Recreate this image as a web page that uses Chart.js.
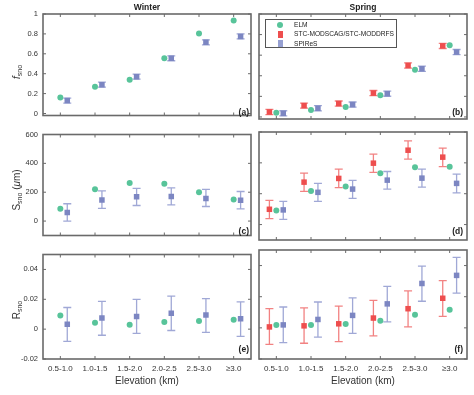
<!DOCTYPE html>
<html><head><meta charset="utf-8">
<script src="https://cdn.jsdelivr.net/npm/chart.js@4.4.0/dist/chart.umd.min.js"></script>
<style>
body{margin:0;background:#fff;}
#wrap{position:relative;width:474px;height:395px;overflow:hidden;font-family:"Liberation Sans",Arial,sans-serif;color:#222;}
canvas{position:absolute;}
.t{position:absolute;white-space:nowrap;line-height:1;}
.title{font-weight:bold;font-size:8.5px;transform:translate(-50%,-50%);}
.plab{font-weight:bold;font-size:8.5px;transform:translate(-100%,-50%);}
.xt{font-size:10px;transform:translate(-50%,-50%);color:#333;}
.yl{font-size:10px;transform:translate(-50%,-50%) rotate(-90deg);color:#333;}
.yl sub{font-size:7px;vertical-align:-2px;}
#legend{position:absolute;left:265px;top:19px;width:132px;height:29px;border:1px solid #555;background:#fff;box-sizing:border-box;}
.lr{position:absolute;left:0;font-size:6.6px;line-height:1;white-space:nowrap;}
.lm{position:absolute;}
</style></head><body>
<div id="wrap">
<canvas id="c0" width="255" height="125" style="left:0;top:0"></canvas>
<canvas id="c1" width="219" height="125" style="left:255px;top:0"></canvas>
<canvas id="c2" width="255" height="120" style="left:0;top:125px"></canvas>
<canvas id="c3" width="219" height="120" style="left:255px;top:125px"></canvas>
<canvas id="c4" width="255" height="150" style="left:0;top:245px"></canvas>
<canvas id="c5" width="219" height="150" style="left:255px;top:245px"></canvas>

<div class="t title" style="left:147px;top:7px">Winter</div>
<div class="t title" style="left:363px;top:7px">Spring</div>

<div class="t yl" style="left:17px;top:72px"><i>f</i><sub>sno</sub></div>
<div class="t yl" style="left:17px;top:190px">S<sub>sno</sub> (<i>μ</i>m)</div>
<div class="t yl" style="left:17px;top:310px">R<sub>sno</sub></div>

<div class="t plab" style="left:249px;top:112px">(a)</div>
<div class="t plab" style="left:463px;top:112px">(b)</div>
<div class="t plab" style="left:249px;top:231px">(c)</div>
<div class="t plab" style="left:463px;top:231px">(d)</div>
<div class="t plab" style="left:249px;top:349px">(e)</div>
<div class="t plab" style="left:463px;top:349px">(f)</div>

<div class="t xt" style="left:147px;top:381px">Elevation (km)</div>
<div class="t xt" style="left:363px;top:381px">Elevation (km)</div>

<div id="legend">
  <div class="lm" style="left:11px;top:2px;width:6px;height:6px;border-radius:50%;background:rgb(88,196,154)"></div>
  <div class="lr" style="left:28px;top:2px">ELM</div>
  <div class="lm" style="left:11.5px;top:10.5px;width:5px;height:7px;background:rgb(238,78,78)"></div>
  <div class="lr" style="left:28px;top:11px">STC-MODSCAG/STC-MODDRFS</div>
  <div class="lm" style="left:11.5px;top:20px;width:5px;height:7px;background:rgb(150,160,210)"></div>
  <div class="lr" style="left:28px;top:20.5px">SPIReS</div>
</div>
</div>
<script>
// ---- data ----
const categories = ['0.5-1.0','1.0-1.5','1.5-2.0','2.0-2.5','2.5-3.0','\u22653.0'];

// fsno
const winterElmF      = [0.16, 0.27, 0.34, 0.555, 0.805, 0.935];
const winterSpiresF   = [0.13, 0.29, 0.37, 0.555, 0.715, 0.775];
const winterSpiresFLo = [0.105, 0.265, 0.345, 0.53, 0.69, 0.75];
const winterSpiresFHi = [0.155, 0.315, 0.395, 0.58, 0.74, 0.80];

const springStcF      = [0.048, 0.11, 0.13, 0.232, 0.50, 0.69];
const springStcFLo    = [0.023, 0.085, 0.105, 0.207, 0.475, 0.665];
const springStcFHi    = [0.073, 0.135, 0.155, 0.257, 0.525, 0.715];
const springElmF      = [0.04, 0.068, 0.097, 0.21, 0.458, 0.697];
const springSpiresF   = [0.035, 0.084, 0.12, 0.226, 0.468, 0.63];
const springSpiresFLo = [0.01, 0.059, 0.095, 0.201, 0.443, 0.605];
const springSpiresFHi = [0.06, 0.109, 0.145, 0.251, 0.493, 0.655];

// Ssno (um)
const winterElmS      = [86, 221, 264, 258, 200, 150];
const winterSpiresS   = [60, 146, 168, 170, 157, 145];
const winterSpiresSLo = [0, 88, 108, 112, 101, 84];
const winterSpiresSHi = [120, 209, 226, 230, 219, 205];

const springStcS      = [99, 275, 299, 398, 482, 437];
const springStcSLo    = [39, 215, 239, 338, 424, 376];
const springStcSHi    = [157, 333, 359, 456, 542, 495];
const springElmS      = [92, 217, 247, 333, 372, 374];
const springSpiresS   = [95, 209, 230, 288, 301, 267];
const springSpiresSLo = [34, 150, 170, 230, 243, 206];
const springSpiresSHi = [150, 267, 286, 344, 359, 327];

// Rsno
const winterElmR      = [0.0091, 0.0043, 0.0030, 0.0048, 0.0054, 0.0063];
const winterSpiresR   = [0.0032, 0.0074, 0.0084, 0.0106, 0.0095, 0.0069];
const winterSpiresRLo = [-0.0082, -0.0041, -0.0028, -0.0009, -0.0022, -0.0048];
const winterSpiresRHi = [0.0145, 0.0186, 0.0199, 0.0221, 0.0205, 0.0182];

const springStcR      = [0.0006, 0.0013, 0.0026, 0.0063, 0.0123, 0.0190];
const springStcRLo    = [-0.0106, -0.0099, -0.0089, -0.0052, 0.0006, 0.0074];
const springStcRHi    = [0.0123, 0.0128, 0.0140, 0.0177, 0.0238, 0.0303];
const springElmR      = [0.0019, 0.0019, 0.0024, 0.0045, 0.0084, 0.0117];
const springSpiresR   = [0.0019, 0.0054, 0.0080, 0.0154, 0.0285, 0.0337];
const springSpiresRLo = [-0.0095, -0.0060, -0.0035, 0.0039, 0.0171, 0.0223];
const springSpiresRHi = [0.0134, 0.0166, 0.0192, 0.0266, 0.0396, 0.0452];

const fTicks = [0, 0.2, 0.4, 0.6, 0.8, 1];
const sTicks = [0, 200, 400, 600];
const rTicks = [-0.02, 0, 0.02, 0.04];

// ---- styling ----
const FONT = "'Liberation Sans', Arial, sans-serif";
const COL = {elm:'rgb(88,196,154)', stc:'rgb(238,78,78)', spires:'rgb(124,134,194)'};
const BAR = {stc:'rgb(242,130,130)', spires:'rgb(160,168,214)'};
const OFF = {stc:-0.2, elm:0, spires:0.2};

function ds(kind, vals, lo, hi){
  return {
    label: kind,
    data: vals.map((v,i)=>({x:i+OFF[kind], y:v})),
    lo: lo, hi: hi, barColor: BAR[kind],
    pointStyle: kind==='elm' ? 'circle' : 'rect',
    pointRadius: kind==='elm' ? 3 : 3.9,
    backgroundColor: COL[kind],
    borderWidth: 0,
    showLine: false
  };
}

const errPlugin = {
  id:'err',
  beforeDatasetsDraw(chart){
    const {ctx, scales:{x,y}} = chart;
    ctx.save();
    chart.data.datasets.forEach(d=>{
      if(!d.lo) return;
      ctx.strokeStyle = d.barColor;
      ctx.lineWidth = 1.3;
      ctx.beginPath();
      d.data.forEach((p,i)=>{
        const px = x.getPixelForValue(p.x);
        const y1 = y.getPixelForValue(d.lo[i]);
        const y2 = y.getPixelForValue(d.hi[i]);
        ctx.moveTo(px,y1); ctx.lineTo(px,y2);
        ctx.moveTo(px-4,y1); ctx.lineTo(px+4,y1);
        ctx.moveTo(px-4,y2); ctx.lineTo(px+4,y2);
      });
      ctx.stroke();
    });
    ctx.restore();
  }
};

const framePlugin = {
  id:'frame',
  afterDraw(chart){
    const {ctx, chartArea:a, scales:{x,y}} = chart;
    ctx.save();
    ctx.strokeStyle = '#6a6a6a';
    ctx.lineWidth = 1;
    ctx.beginPath();
    x.ticks.forEach(t=>{
      const px = x.getPixelForValue(t.value);
      ctx.moveTo(px,a.top); ctx.lineTo(px,a.top+3);
      ctx.moveTo(px,a.bottom); ctx.lineTo(px,a.bottom-3);
    });
    y.ticks.forEach(t=>{
      const py = y.getPixelForValue(t.value);
      ctx.moveTo(a.left,py); ctx.lineTo(a.left+3,py);
      ctx.moveTo(a.right,py); ctx.lineTo(a.right-3,py);
    });
    ctx.stroke();
    ctx.lineWidth = 1.6;
    ctx.strokeRect(a.left, a.top, a.right-a.left, a.bottom-a.top);
    ctx.restore();
  }
};

function make(id, datasets, yc, o){
  new Chart(document.getElementById(id), {
    type:'scatter',
    data:{datasets},
    plugins:[errPlugin, framePlugin],
    options:{
      responsive:false, animation:false, events:[],
      layout:{padding:{top:o.pt, bottom:o.pb, left:0, right:o.pr}},
      plugins:{legend:{display:false}, tooltip:{enabled:false}},
      scales:{
        x:{type:'linear', min:-0.5, max:5.5,
           afterBuildTicks:s=>{ s.ticks = categories.map((c,i)=>({value:i})); },
           grid:{display:false, drawTicks:false}, border:{display:false},
           ticks:{display:o.xl, padding:5, autoSkip:false, maxRotation:0, color:'#333',
                  font:{family:FONT, size:8}, callback:v=>categories[v]},
           afterFit:s=>{ s.height = o.xh; }},
        y:{min:yc.min, max:yc.max,
           afterBuildTicks:s=>{ s.ticks = yc.ticks.map(v=>({value:v})); },
           grid:{display:false, drawTicks:false}, border:{display:false},
           ticks:{display:o.yl, padding:5, color:'#333', font:{family:FONT, size:7.5},
                  callback:v=>String(v)},
           afterFit:s=>{ s.width = o.yw; }}
      }
    }
  });
}

const L = {yl:true, yw:43, pr:4};
const R = {yl:false, yw:4, pr:7};
const row0 = {pt:14, pb:6, xl:false, xh:0};
const row1 = {pt:7, pb:5, xl:false, xh:0};
const row2 = {pt:5, pb:0, xl:true, xh:36};
const yF = {min:-0.02, max:1, ticks:fTicks};
const yS = {min:-100, max:600, ticks:sTicks};
const yR = {min:-0.02, max:0.05, ticks:rTicks};

make('c0', [ds('elm',winterElmF), ds('spires',winterSpiresF,winterSpiresFLo,winterSpiresFHi)], yF, {...L,...row0});
make('c1', [ds('stc',springStcF,springStcFLo,springStcFHi), ds('elm',springElmF), ds('spires',springSpiresF,springSpiresFLo,springSpiresFHi)], yF, {...R,...row0});
make('c2', [ds('elm',winterElmS), ds('spires',winterSpiresS,winterSpiresSLo,winterSpiresSHi)], yS, {...L,...row1});
make('c3', [ds('stc',springStcS,springStcSLo,springStcSHi), ds('elm',springElmS), ds('spires',springSpiresS,springSpiresSLo,springSpiresSHi)], yS, {...R,...row1});
make('c4', [ds('elm',winterElmR), ds('spires',winterSpiresR,winterSpiresRLo,winterSpiresRHi)], yR, {...L,...row2});
make('c5', [ds('stc',springStcR,springStcRLo,springStcRHi), ds('elm',springElmR), ds('spires',springSpiresR,springSpiresRLo,springSpiresRHi)], yR, {...R,...row2});
</script>
</body></html>
